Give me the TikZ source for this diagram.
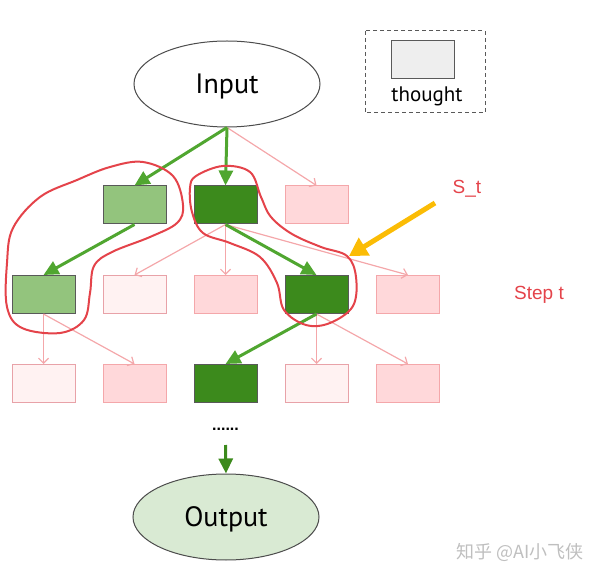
\documentclass[tikz,border=0pt]{standalone}
\usepackage{fontspec}
\setmainfont{PT Sans}
\newfontfamily\arialf{Liberation Sans}
\newfontfamily\cjkf{Noto Sans CJK SC}
\usetikzlibrary{arrows.meta,shapes.geometric}
\definecolor{lgreen}{HTML}{93C47D}
\definecolor{dgreen}{HTML}{3C8A1C}
\definecolor{agreen}{HTML}{50A630}
\definecolor{pinkf}{HTML}{FFD8DA}
\definecolor{pinkd}{HTML}{F4A7AA}
\definecolor{vpinkf}{HTML}{FFF2F2}
\definecolor{vpinkd}{HTML}{E8A2A8}
\definecolor{redc}{HTML}{E4434A}
\definecolor{yel}{HTML}{FBBC05}
\definecolor{outf}{HTML}{D9EAD3}
\definecolor{legf}{HTML}{EEEEEE}
\tikzset{
  tbox/.style={draw, line width=1pt, minimum width=63pt, minimum height=38pt, inner sep=0pt},
  lg/.style={tbox, fill=lgreen, draw=black!65},
  dg/.style={tbox, fill=dgreen, draw=black!65},
  pk/.style={tbox, fill=pinkf, draw=pinkd},
  vp/.style={tbox, fill=vpinkf, draw=vpinkd},
  oval/.style={ellipse, draw=black!70, line width=1pt, minimum width=186pt, minimum height=86pt, inner sep=0pt, text depth=0pt, font=\fontsize{28}{30}\selectfont},
  garrow/.style={agreen, line width=3pt, -{Triangle[length=15pt,width=14pt]}},
  parrow/.style={pinkd, line width=1.2pt, -{Straight Barb[length=5pt,width=10pt]}},
  redline/.style={redc, line width=2pt, line join=round},
}
\begin{document}
\begin{tikzpicture}[x=1pt,y=-1pt]
\useasboundingbox (0,0) rectangle (600,577);
% ellipses
\node[oval, fill=white] (in) at (227,84) {Input};
\node[oval, fill=outf] (out) at (226,517) {Output};
% row 1
\node[lg] (a1) at (134.5,205) {};
\node[dg] (a2) at (225.5,205) {};
\node[pk] (a3) at (316.5,205) {};
% row 2
\node[lg] (b1) at (43.5,294.5) {};
\node[vp] (b2) at (134.5,294.5) {};
\node[pk] (b3) at (225.5,294.5) {};
\node[dg] (b4) at (316.5,294.5) {};
\node[pk] (b5) at (408,294.5) {};
% row 3
\node[vp] (c1) at (43.5,383.5) {};
\node[pk] (c2) at (134.5,383.5) {};
\node[dg] (c3) at (225.5,383.5) {};
\node[vp] (c4) at (316.5,383.5) {};
\node[pk] (c5) at (408,383.5) {};
% dots
\node[font=\arialf\bfseries\fontsize{16}{18}\selectfont, inner sep=0pt, anchor=base] (dots) at (225.5,430) {......};
% pink arrows
\draw[parrow] (in.south) -- (a3.north);
\draw[parrow] (a2.south) -- (b2.north);
\draw[parrow] (a2.south) -- (b3.north);
\draw[parrow] (a2.south) -- (b5.north);
\draw[parrow] (b1.south) -- (c1.north);
\draw[parrow] (b1.south) -- (c2.north);
\draw[parrow] (b4.south) -- (c4.north);
\draw[parrow] (b4.south) -- (c5.north);
% green arrows
\draw[garrow] (in.south) -- (a1.north);
\draw[garrow] (in.south) -- (a2.north);
\draw[garrow] (a1.south) -- (b1.north);
\draw[garrow] (a2.south) -- (b4.north);
\draw[garrow] (b4.south) -- (c3.north);
\coordinate (dstart) at (225.5,445);
\draw[garrow, dgreen] (dstart) -- (out.north);
% legend
\draw[black!65, line width=1pt, dash pattern=on 4pt off 3pt] (365,31) rectangle (485,113);
\node[tbox, fill=legf, draw=black!65] (leg) at (422.5,60) {};
\node[font=\fontsize{21}{23}\selectfont, inner sep=0pt, anchor=base] (legt) at (427,102) {thought};
% labels
\node[redc, font=\arialf\fontsize{19}{21}\selectfont, inner sep=0pt] (st) at (467,189) {S\_t};
\node[redc, font=\arialf\fontsize{19}{21}\selectfont, inner sep=0pt] (stept) at (539,295) {Step t};
% yellow arrow
\coordinate (ys) at (435,203);
\coordinate (ye) at (349,256);
\draw[yel, line width=5pt, -{Triangle[length=18pt,width=20pt]}] (ys) -- (ye);
% red hand-drawn curves
\draw[redline] plot[smooth cycle, tension=0.6] coordinates {
  (110,167) (143,162) (173,176) (183,205) (177,223) (150,237) (112,252)
  (94,266) (90,293) (84,320) (60,333) (22,328) (7,307) (7,263) (13,228)
  (40,197) (77,180)};
\draw[redline] plot[smooth cycle, tension=0.6] coordinates {
  (196,176) (223,166) (250,172) (261,197) (271,217) (292,234) (321,247)
  (347,256) (356,277) (353,306) (330,323) (306,325) (284,310) (277,283)
  (260,257) (230,243) (203,233) (192,212) (190,188)};
% watermark
\node[black!25, font=\cjkf\fontsize{18}{20}\selectfont, inner sep=0pt] (wm) at (520,552) {知乎 @AI小飞侠};
\end{tikzpicture}
\end{document}
